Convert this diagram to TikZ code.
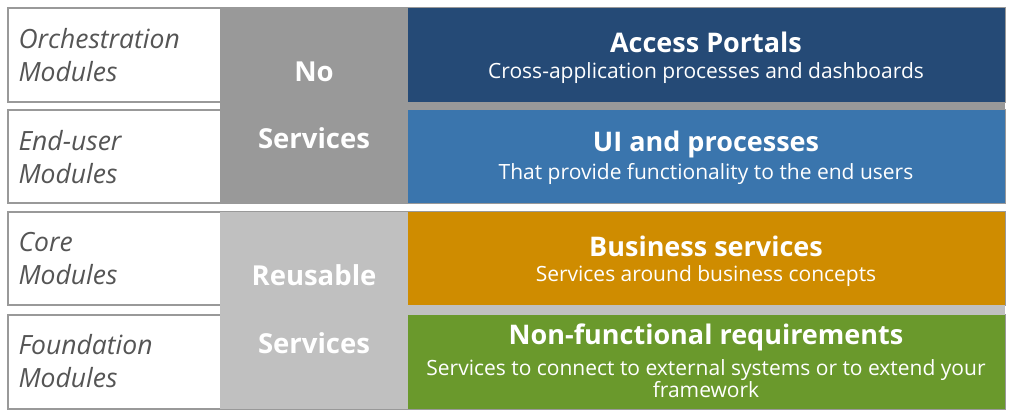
\documentclass[tikz,border=0pt]{standalone}
\usepackage{fontspec}
\setmainfont{Open Sans}
\definecolor{dblue}{HTML}{254A76}
\definecolor{mblue}{HTML}{3A75AD}
\definecolor{orng}{HTML}{CF8C00}
\definecolor{grn}{HTML}{6A992C}
\definecolor{dgray}{HTML}{999999}
\definecolor{lgray}{HTML}{C0C0C0}
\definecolor{txtg}{HTML}{555555}
\begin{document}
\begin{tikzpicture}[x=1pt,y=-1pt,
  rowbox/.style={draw=dgray,line width=1.2pt},
  lbl/.style={anchor=west,align=left,font=\fontsize{26.5}{33}\selectfont\itshape,text=txtg},
  mid/.style={font=\fontsize{27.5}{30}\selectfont\bfseries,text=white},
  ttl/.style={font=\fontsize{27}{30}\selectfont\bfseries,text=white},
  sub/.style={font=\fontsize{21}{22}\selectfont,text=white,align=center}]
\useasboundingbox (0,0) rectangle (1014,420);
% row outlines
\foreach \a/\b in {8/102,110/203,212/305,315/409}{
  \draw[rowbox] (8,\a) rectangle (1005,\b);}
% middle columns
\fill[dgray] (220,8) rectangle (408,203);
\fill[dgray] (408,102) rectangle (1005,110);
\fill[lgray] (220,212) rectangle (408,409);
\fill[lgray] (408,305) rectangle (1005,315);
% colored boxes
\fill[dblue] (408,8) rectangle (1005,102);
\fill[mblue] (408,110) rectangle (1005,203);
\fill[orng] (408,212) rectangle (1005,305);
\fill[grn] (408,315) rectangle (1005,409);
% left labels
\node[lbl] (l1) at (15,55) {Orchestration\\Modules};
\node[lbl] (l2) at (15,157) {End-user\\Modules};
\node[lbl] (l3) at (15,259) {Core\\Modules};
\node[lbl] (l4) at (15,361) {Foundation\\Modules};
% middle labels
\node[mid] (m1) at (314,72) {No};
\node[mid] (m2) at (314,138) {Services};
\node[mid] (m3) at (314,275) {Reusable};
\node[mid] (m4) at (314,343) {Services};
% right
\node[ttl] (t1) at (706,42) {Access Portals};
\node[sub] (s1) at (706,73) {Cross-application processes and dashboards};
\node[ttl] (t2) at (706,144) {UI and processes};
\node[sub] (s2) at (706,174) {That provide functionality to the end users};
\node[ttl] (t3) at (706,246) {Business services};
\node[sub] (s3) at (706,276) {Services around business concepts};
\node[ttl] (t4) at (706,337) {Non-functional requirements};
\node[sub] (s4) at (706,379) {Services to connect to external systems or to extend your\\framework};
\end{tikzpicture}
\end{document}
